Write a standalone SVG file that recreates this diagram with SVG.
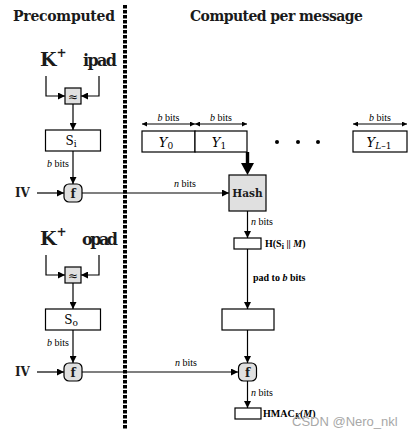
<svg xmlns="http://www.w3.org/2000/svg" width="411" height="438" viewBox="0 0 411 438">
<style>
.bx{fill:#fff;stroke:#000;stroke-width:1.2}
.gb{fill:#e0e0e0;stroke:#000;stroke-width:1.2}
.ln{fill:none;stroke:#000;stroke-width:1.2}
.hd{font-family:"DejaVu Serif",serif;font-weight:bold;font-size:14px;fill:#1a1a1a}
.big{font-family:"DejaVu Serif",serif;font-weight:bold;fill:#1a1a1a}
.sm{font-family:"Liberation Serif",serif;font-size:10px;fill:#000}
.smb{font-family:"Liberation Serif",serif;font-size:10px;font-weight:bold;fill:#000}
.nd{font-family:"DejaVu Serif",serif;font-size:12px;fill:#000}
.it{font-style:italic}
</style>
<defs>
<marker id="ah" viewBox="0 0 10 10" refX="10" refY="5" markerWidth="8" markerHeight="7" markerUnits="userSpaceOnUse" orient="auto"><path d="M0,0 L10,5 L0,10 z" fill="#000"/></marker>
<marker id="sa" viewBox="0 0 10 10" refX="10" refY="5" markerWidth="6" markerHeight="5" markerUnits="userSpaceOnUse" orient="auto-start-reverse"><path d="M0,0 L10,5 L0,10 z" fill="#000"/></marker>
</defs>
<rect width="411" height="438" fill="#fff"/>

<g id="titles">
<text class="hd" x="13" y="21" textLength="102">Precomputed</text>
<text class="hd" x="190" y="21" textLength="173">Computed per message</text>
</g>

<g id="divider">
<line x1="125" y1="5" x2="125" y2="430" stroke="#000" stroke-width="4" stroke-dasharray="3.4 1.6"/>
</g>

<g id="connectors">
<!-- top left -->
<polyline class="ln" points="46,76 46,96 65,96" marker-end="url(#ah)"/>
<polyline class="ln" points="99,76 99,96 81,96" marker-end="url(#ah)"/>
<line class="ln" x1="73" y1="104" x2="73" y2="130" marker-end="url(#ah)"/>
<line class="ln" x1="73" y1="151" x2="73" y2="184" marker-end="url(#ah)"/>
<line class="ln" x1="37" y1="193" x2="64" y2="193" marker-end="url(#ah)"/>
<line class="ln" x1="82" y1="193" x2="229" y2="193" marker-end="url(#ah)"/>
<!-- bottom left -->
<polyline class="ln" points="46,255 46,275 65,275" marker-end="url(#ah)"/>
<polyline class="ln" points="99,255 99,275 81,275" marker-end="url(#ah)"/>
<line class="ln" x1="73" y1="283" x2="73" y2="309" marker-end="url(#ah)"/>
<line class="ln" x1="73" y1="330" x2="73" y2="363" marker-end="url(#ah)"/>
<line class="ln" x1="37" y1="372" x2="64" y2="372" marker-end="url(#ah)"/>
<line class="ln" x1="82" y1="372" x2="238" y2="372" marker-end="url(#ah)"/>
<!-- block width arrows -->
<line class="ln" x1="142" y1="124" x2="195" y2="124" marker-start="url(#sa)" marker-end="url(#sa)"/>
<line class="ln" x1="195" y1="124" x2="247" y2="124" marker-start="url(#sa)" marker-end="url(#sa)"/>
<line class="ln" x1="353" y1="124" x2="407" y2="124" marker-start="url(#sa)" marker-end="url(#sa)"/>
<!-- thick arrow into Hash -->
<rect x="245.8" y="152" width="3.4" height="12" fill="#000"/>
<path d="M241,163 L254,163 L247.5,175 z" fill="#000"/>
<!-- right column -->
<line class="ln" x1="247.5" y1="211" x2="247.5" y2="238" marker-end="url(#ah)"/>
<line class="ln" x1="247.5" y1="249" x2="247.5" y2="309" marker-end="url(#ah)"/>
<line class="ln" x1="247.5" y1="330" x2="247.5" y2="363" marker-end="url(#ah)"/>
<line class="ln" x1="247.5" y1="381" x2="247.5" y2="408" marker-end="url(#ah)"/>
</g>

<g id="labels">
<text class="sm" x="168.5" y="121" text-anchor="middle"><tspan class="it">b</tspan> bits</text>
<text class="sm" x="221" y="121" text-anchor="middle"><tspan class="it">b</tspan> bits</text>
<text class="sm" x="380" y="121" text-anchor="middle"><tspan class="it">b</tspan> bits</text>
<text class="sm" x="47" y="167"><tspan class="it">b</tspan> bits</text>
<text class="sm" x="47" y="346"><tspan class="it">b</tspan> bits</text>
<text class="sm" x="174" y="187"><tspan class="it">n</tspan> bits</text>
<text class="sm" x="175" y="366"><tspan class="it">n</tspan> bits</text>
<text class="sm" x="251" y="225"><tspan class="it">n</tspan> bits</text>
<text class="sm" x="251" y="396"><tspan class="it">n</tspan> bits</text>
<text class="smb" x="253" y="281">pad to <tspan class="it">b</tspan> bits</text>
<text class="smb" x="265" y="247">H(S<tspan font-size="8" dy="2">i</tspan><tspan dy="-2"> || </tspan><tspan class="it">M</tspan>)</text>
<text class="smb" x="263" y="417">HMAC<tspan font-size="8" dy="2" class="it">K</tspan><tspan dy="-2">(</tspan><tspan class="it">M</tspan>)</text>
</g>

<g id="inputs-top">
<text class="big" x="40" y="66" font-size="19">K<tspan font-size="12" dy="-9">+</tspan></text>
<text class="big" x="83" y="66" font-size="16" textLength="34">ipad</text>
<text class="big" x="15" y="197" font-size="12">IV</text>
</g>

<g id="inputs-bottom">
<text class="big" x="40" y="245" font-size="19">K<tspan font-size="12" dy="-9">+</tspan></text>
<text class="big" x="82" y="245" font-size="16" textLength="36">opad</text>
<text class="big" x="15" y="376" font-size="12">IV</text>
</g>

<g id="xor1">
<rect class="gb" x="65" y="88" width="16" height="16"/>
<text class="nd" x="73" y="100.5" text-anchor="middle" font-size="12">≈</text>
</g>
<g id="Si">
<rect class="bx" x="45.5" y="130" width="55" height="21"/>
<text class="nd" x="71" y="145" text-anchor="middle">S<tspan font-size="9" dy="2">i</tspan></text>
</g>
<g id="f1">
<rect class="gb" x="64" y="184" width="18" height="18" rx="5"/>
<text class="big" x="73" y="197.5" text-anchor="middle" font-size="12">f</text>
</g>

<g id="xor2">
<rect class="gb" x="65" y="267" width="16" height="16"/>
<text class="nd" x="73" y="279.5" text-anchor="middle" font-size="12">≈</text>
</g>
<g id="So">
<rect class="bx" x="45.5" y="309" width="55" height="21"/>
<text class="nd" x="71" y="324" text-anchor="middle">S<tspan font-size="9" dy="2">o</tspan></text>
</g>
<g id="f1b">
<rect class="gb" x="64" y="363" width="18" height="18" rx="5"/>
<text class="big" x="73" y="376.5" text-anchor="middle" font-size="12">f</text>
</g>

<g id="Y0">
<rect class="bx" x="142" y="131" width="53" height="21"/>
<text class="nd" x="166" y="147" text-anchor="middle"><tspan class="it" font-size="13">Y</tspan><tspan font-size="9" dy="2">0</tspan></text>
</g>
<g id="Y1">
<rect class="bx" x="195" y="131" width="52" height="21"/>
<text class="nd" x="219" y="147" text-anchor="middle"><tspan class="it" font-size="13">Y</tspan><tspan font-size="9" dy="2">1</tspan></text>
</g>
<g id="dots">
<circle cx="277" cy="142" r="2" fill="#000"/>
<circle cx="298" cy="142" r="2" fill="#000"/>
<circle cx="318" cy="142" r="2" fill="#000"/>
</g>
<g id="YL1">
<rect class="bx" x="353" y="131" width="54" height="21"/>
<text class="nd" x="379" y="147" text-anchor="middle"><tspan class="it" font-size="13">Y</tspan><tspan font-size="9" dy="2"><tspan class="it">L</tspan>–1</tspan></text>
</g>

<g id="Hash">
<rect class="gb" x="229" y="175" width="37" height="36"/>
<text class="big" x="247.5" y="197" text-anchor="middle" font-size="10.5">Hash</text>
</g>
<g id="inner">
<rect class="bx" x="234" y="238" width="27" height="11"/>
</g>
<g id="padded">
<rect class="bx" x="222" y="309" width="52" height="21"/>
</g>
<g id="f2">
<rect class="gb" x="238.5" y="363" width="18" height="18" rx="5"/>
<text class="big" x="247.5" y="376.5" text-anchor="middle" font-size="12">f</text>
</g>
<g id="hmac">
<rect class="bx" x="235" y="408" width="26" height="11"/>
</g>

<g id="watermark">
<text x="292" y="426" font-family="Liberation Sans, sans-serif" font-size="13" fill="#a8a8a8">CSDN @Nero_nkl</text>
</g>
</svg>
